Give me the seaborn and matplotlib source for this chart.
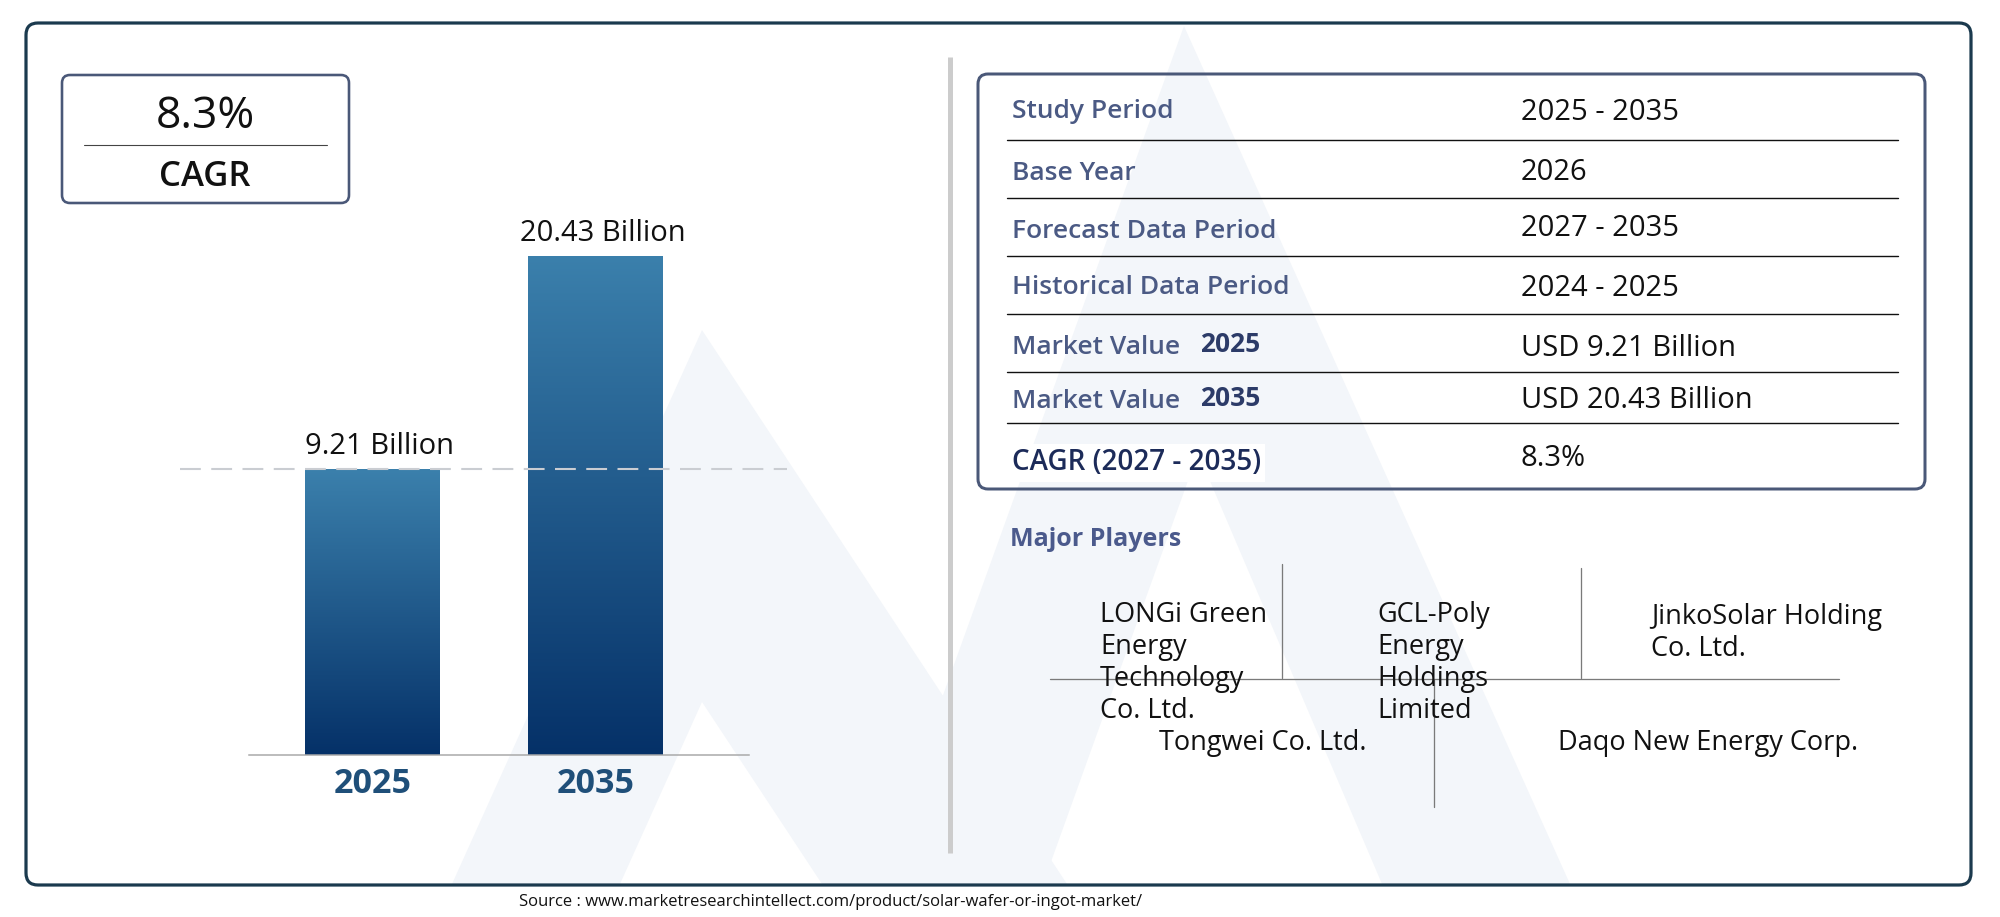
import numpy as np
import pandas as pd
import matplotlib
matplotlib.use("Agg")
import matplotlib.pyplot as plt
import seaborn as sns
from matplotlib.patches import FancyBboxPatch, Polygon

# ---------------- data ----------------
years = ["2025", "2035"]
market_values = [9.21, 20.43]
value_labels = ["9.21 Billion", "20.43 Billion"]
cagr_text = "8.3%"
cagr_caption = "CAGR"

table_labels = ["Study Period", "Base Year", "Forecast Data Period",
                "Historical Data Period", "Market Value", "Market Value",
                "CAGR (2027 - 2035)"]
table_label_years = ["", "", "", "", "2025", "2035", ""]
table_values = ["2025 - 2035", "2026", "2027 - 2035", "2024 - 2025",
                "USD 9.21 Billion", "USD 20.43 Billion", "8.3%"]

players_title = "Major Players"
players = ["LONGi Green\nEnergy\nTechnology\nCo. Ltd.",
           "GCL-Poly\nEnergy\nHoldings\nLimited",
           "JinkoSolar Holding\nCo. Ltd.",
           "Tongwei Co. Ltd.",
           "Daqo New Energy Corp."]
source_text = "Source : www.marketresearchintellect.com/product/solar-wafer-or-ingot-market/"

# ---------------- style ----------------
sns.set_theme(style="white")
plt.rcParams["font.family"] = ["Open Sans", "DejaVu Sans"]

W, H = 2000, 917
PT = 0.72  # px -> pt at 100 dpi
fig = plt.figure(figsize=(20, 9.17), dpi=100)
fig.patch.set_facecolor("white")

bg = fig.add_axes([0, 0, 1, 1])
bg.set_xlim(0, W)
bg.set_ylim(H, 0)
bg.axis("off")
bg.set_zorder(0)

# watermark (faint logo shape)
wm = "#f3f6fa"
bg.add_patch(Polygon([(452, 884), (702, 330), (1067, 884), (822, 884), (702, 702), (620, 884)],
                     closed=True, fc=wm, ec="none", zorder=0))
bg.add_patch(Polygon([(875, 884), (1184, 26), (1570, 884), (1382, 884), (1198, 453), (1043, 884)],
                     closed=True, fc=wm, ec="none", zorder=0))

# outer frame
bg.add_patch(FancyBboxPatch((26, 23), 1945, 862, boxstyle="round,pad=0,rounding_size=12",
                            fc="none", ec="#1b3a4e", lw=3.2 * PT, zorder=2))
# separator
bg.plot([950, 950], [57, 853], color="#cccccc", lw=5 * PT, solid_capstyle="butt", zorder=2)

# CAGR box
bg.add_patch(FancyBboxPatch((62, 75), 287, 128, boxstyle="round,pad=0,rounding_size=8",
                            fc="none", ec="#4a5878", lw=2.6 * PT, zorder=2))
bg.plot([84, 327], [145, 145], color="#444444", lw=1.1 * PT, zorder=2)
bg.text(205, 117, cagr_text, fontsize=32, ha="center", va="center", color="#111111", zorder=3)
bg.text(205, 177, cagr_caption, fontsize=25, ha="center", va="center", color="#111111",
        weight="semibold", zorder=3)

# table box
bg.add_patch(FancyBboxPatch((978, 74), 947, 415, boxstyle="round,pad=0,rounding_size=10",
                            fc="none", ec="#4a5878", lw=3 * PT, zorder=2))
for yl in [140, 198, 256, 314, 372, 423]:
    bg.plot([1007, 1898], [yl, yl], color="#111111", lw=1.4 * PT, zorder=2)

label_y = [112, 173, 231, 288, 347, 401, 463]
value_y = [113, 173, 229, 288, 349, 400, 458]
for i, (lab, yr, val) in enumerate(zip(table_labels, table_label_years, table_values)):
    if i == len(table_labels) - 1:
        bg.text(1012, label_y[i], lab, fontsize=20, weight="semibold", color="#1c2b59",
                ha="left", va="center", zorder=3,
                bbox=dict(fc="white", ec="none", pad=3))
    else:
        bg.text(1012, label_y[i], lab, fontsize=19, weight="semibold", color="#4b5a84",
                ha="left", va="center", zorder=3)
    if yr:
        bg.text(1200, label_y[i] - 2, yr, fontsize=19, weight="bold", color="#2c3b68",
                ha="left", va="center", zorder=3)
    bg.text(1521, value_y[i], val, fontsize=21, color="#111111", ha="left", va="center", zorder=3)

# major players
bg.text(1010, 539, players_title, fontsize=18, weight="bold", color="#4b5a8c",
        ha="left", va="center", zorder=3)
line_c = "#7a7a7a"
bg.plot([1050, 1839], [679, 679], color=line_c, lw=1.3 * PT, zorder=2)
bg.plot([1282, 1282], [564, 678], color=line_c, lw=1.3 * PT, zorder=2)
bg.plot([1581, 1581], [568, 678], color=line_c, lw=1.3 * PT, zorder=2)
bg.plot([1434, 1434], [680, 807], color=line_c, lw=1.3 * PT, zorder=2)
player_pos = [(1100, 663), (1377, 663), (1651, 633), (1159, 743), (1558, 743)]
for name, (px, py) in zip(players, player_pos):
    bg.text(px, py, name, fontsize=19.5, color="#111111", ha="left", va="center",
            linespacing=1.2, zorder=3)

# source
bg.text(519, 902, source_text, fontsize=12, color="#111111", ha="left", va="center", zorder=3)

# ---------------- bar chart ----------------
ax = fig.add_axes([249 / W, 1 - 755 / H, 500 / W, 555 / H])
ax.set_zorder(1)
ax.patch.set_alpha(0)
df = pd.DataFrame({"Year": years, "Value": market_values})
sns.barplot(data=df, x="Year", y="Value", ax=ax, width=0.605, color="#1f4f7a",
            saturation=1, edgecolor="none")


def fwd(v):
    v = np.asarray(v, dtype=float)
    return np.sign(v) * np.abs(v) ** 0.7


def inv(v):
    v = np.asarray(v, dtype=float)
    return np.sign(v) * np.abs(v) ** (1 / 0.7)


ax.set_yscale("function", functions=(fwd, inv))
XL = (-0.554, 1.688)
YL = (0, 23.75)
ax.set_xlim(*XL)
ax.set_ylim(*YL)

top_c = np.array([0x3b, 0x80, 0xac]) / 255
bot_c = np.array([0x05, 0x31, 0x68]) / 255
t = np.linspace(0, 1, 256)[:, None]
grad = (top_c[None, :] * (1 - t) + bot_c[None, :] * t)[:, None, :]

to_axes = ax.transData + ax.transAxes.inverted()
for p in list(ax.patches):
    x0, w, h = p.get_x(), p.get_width(), p.get_height()
    (ax0, ay0) = to_axes.transform((x0, 0))
    (ax1, ay1) = to_axes.transform((x0 + w, h))
    im = ax.imshow(grad, extent=(ax0, ax1, ay0, ay1), transform=ax.transAxes,
                   aspect="auto", interpolation="bicubic", origin="upper", zorder=2)
    im.set_clip_path(p)
    p.set_facecolor("none")
ax.set_xlim(*XL)
ax.set_ylim(*YL)

for i, (v, lab) in enumerate(zip(market_values, value_labels)):
    ax.annotate(lab, xy=(i, v), xytext=(5, 16), textcoords="offset points",
                ha="center", va="center", fontsize=21, color="#111111", zorder=4)

ax.plot([-0.863, 1.858], [market_values[0], market_values[0]], clip_on=False,
        color="#cacdd2", lw=1.5, dashes=(10, 5), zorder=5)

for s in ["top", "right", "left"]:
    ax.spines[s].set_visible(False)
ax.spines["bottom"].set_color("#a8a8a8")
ax.spines["bottom"].set_linewidth(1.5 * PT)
ax.set_yticks([])
ax.set_xlabel("")
ax.set_ylabel("")
ax.tick_params(axis="x", length=0, pad=21)
for tl in ax.get_xticklabels():
    tl.set_fontsize(24.5)
    tl.set_fontweight("bold")
    tl.set_color("#1f4f79")
    tl.set_va("center")
ax.grid(False)

fig.savefig("out.png", dpi=100, facecolor="white")
